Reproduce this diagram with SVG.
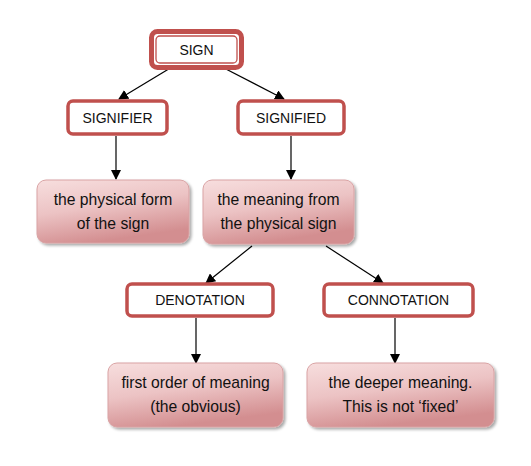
<svg xmlns="http://www.w3.org/2000/svg" width="531" height="466" viewBox="0 0 531 466">
<defs>
<linearGradient id="pink" x1="0" y1="0" x2="0.35" y2="1">
<stop offset="0" stop-color="#f7dede"/>
<stop offset="0.5" stop-color="#ecc3c4"/>
<stop offset="1" stop-color="#d38e90"/>
</linearGradient>
<filter id="sh" x="-10%" y="-10%" width="130%" height="130%">
<feGaussianBlur in="SourceAlpha" stdDeviation="1.5"/>
<feOffset dx="2" dy="2"/>
<feComponentTransfer><feFuncA type="linear" slope="0.35"/></feComponentTransfer>
<feMerge><feMergeNode/><feMergeNode in="SourceGraphic"/></feMerge>
</filter>
<marker id="arr" markerWidth="10" markerHeight="10" refX="9" refY="5" orient="auto" markerUnits="userSpaceOnUse">
<path d="M0,0 L10,5 L0,10 z" fill="#000"/>
</marker>
</defs>
<style>
.lbl{fill:#fff;stroke:#c0504d;stroke-width:3.5}
.box{fill:url(#pink);stroke:#d9a3a4;stroke-width:1;filter:url(#sh)}
text{font-family:"Liberation Sans",Arial,sans-serif;font-size:14px;fill:#111;text-anchor:middle}
.t{font-size:15.7px}
.c{stroke:#000;stroke-width:1.2;fill:none;marker-end:url(#arr)}
</style>
<rect width="531" height="466" fill="#fff"/>
<g id="connectors">
<line class="c" x1="172" y1="67" x2="119" y2="99"/>
<line class="c" x1="222" y1="67" x2="284" y2="99"/>
<line class="c" x1="116" y1="136" x2="116" y2="179"/>
<line class="c" x1="291" y1="136" x2="291" y2="179"/>
<line class="c" x1="252" y1="246" x2="206" y2="283"/>
<line class="c" x1="326" y1="246" x2="383" y2="283"/>
<line class="c" x1="196" y1="318" x2="196" y2="363"/>
<line class="c" x1="395" y1="318" x2="395" y2="363"/>
</g>
<g id="sign">
<rect x="151.5" y="31.5" width="90" height="36" rx="6" fill="#fff" stroke="#c0504d" stroke-width="5"/>
<rect x="156" y="36" width="81" height="27" rx="4" fill="#fff" stroke="#c0504d" stroke-width="1.3"/>
<text x="196.5" y="55">SIGN</text>
</g>
<g id="signifier">
<rect class="lbl" x="68" y="101" width="99" height="33" rx="5"/>
<text x="117.5" y="123">SIGNIFIER</text>
</g>
<g id="signified">
<rect class="lbl" x="238" y="101" width="106" height="33" rx="5"/>
<text x="291" y="123">SIGNIFIED</text>
</g>
<g id="physical-form">
<rect class="box" x="37" y="180" width="152" height="63" rx="9"/>
<text class="t" x="113" y="205">the physical form</text>
<text class="t" x="113" y="229">of the sign</text>
</g>
<g id="meaning">
<rect class="box" x="203" y="180" width="151" height="64" rx="9"/>
<text class="t" x="278.5" y="205">the meaning from</text>
<text class="t" x="278.5" y="229">the physical sign</text>
</g>
<g id="denotation">
<rect class="lbl" x="127" y="284" width="146" height="32" rx="5"/>
<text x="200" y="305">DENOTATION</text>
</g>
<g id="connotation">
<rect class="lbl" x="324" y="284" width="149" height="32" rx="5"/>
<text x="398.5" y="305">CONNOTATION</text>
</g>
<g id="first-order">
<rect class="box" x="108" y="363" width="175" height="64" rx="9"/>
<text class="t" x="195.5" y="388">first order of meaning</text>
<text class="t" x="195.5" y="412">(the obvious)</text>
</g>
<g id="deeper">
<rect class="box" x="307" y="363" width="187" height="64" rx="9"/>
<text class="t" x="400.5" y="388">the deeper meaning.</text>
<text class="t" x="400.5" y="412">This is not ‘fixed’</text>
</g>
</svg>
